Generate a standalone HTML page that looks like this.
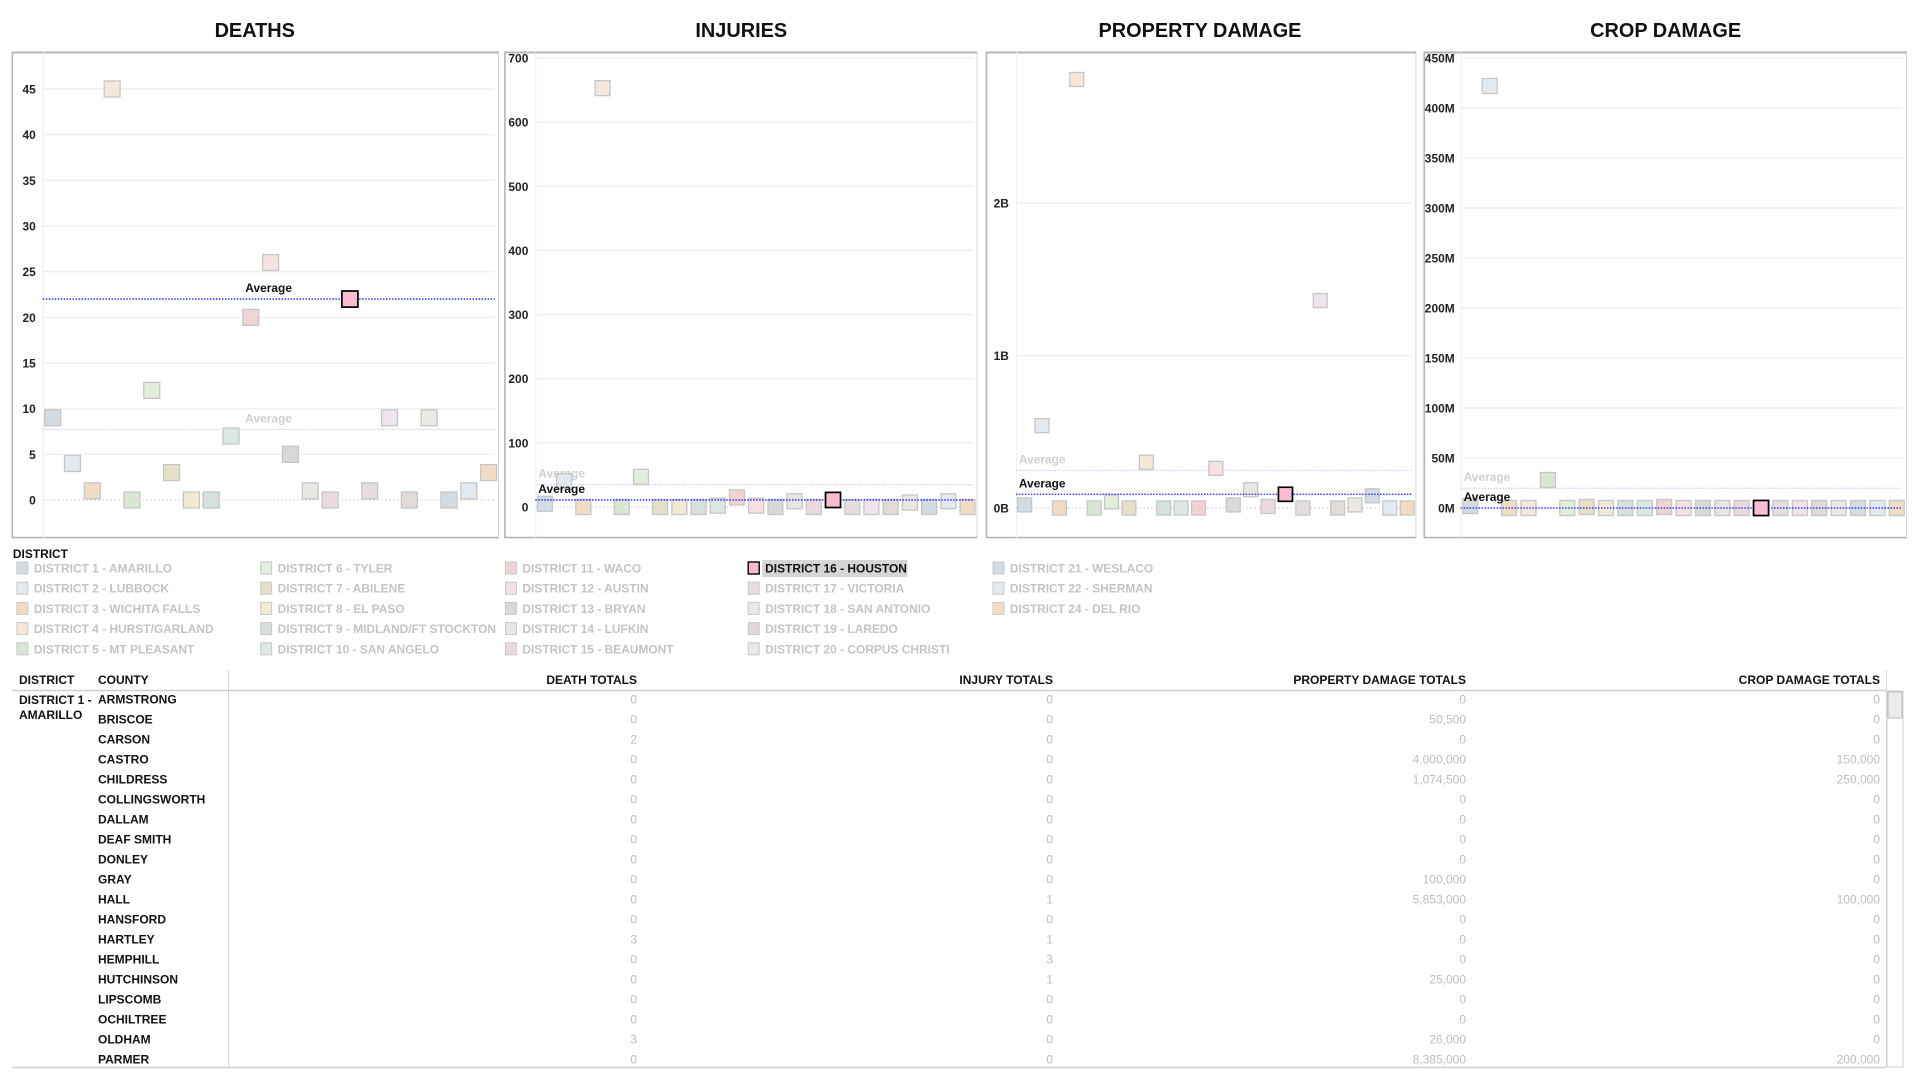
<!DOCTYPE html>
<html><head><meta charset="utf-8"><style>
html,body{margin:0;padding:0;background:#fff;width:1920px;height:1080px;overflow:hidden;font-family:"Liberation Sans",Arial,sans-serif}
svg text{font-family:"Liberation Sans",Arial,sans-serif}
</style></head><body>
<svg id="svgroot" width="1920" height="1080" viewBox="0 0 1920 1080" xmlns="http://www.w3.org/2000/svg"><g id="root" transform="scale(0.995,1)"></g><g id="troot"></g></svg>
<script>
const districts=["DISTRICT 1 - AMARILLO","DISTRICT 2 - LUBBOCK","DISTRICT 3 - WICHITA FALLS","DISTRICT 4 - HURST/GARLAND","DISTRICT 5 - MT PLEASANT","DISTRICT 6 - TYLER","DISTRICT 7 - ABILENE","DISTRICT 8 - EL PASO","DISTRICT 9 - MIDLAND/FT STOCKTON","DISTRICT 10 - SAN ANGELO","DISTRICT 11 - WACO","DISTRICT 12 - AUSTIN","DISTRICT 13 - BRYAN","DISTRICT 14 - LUFKIN","DISTRICT 15 - BEAUMONT","DISTRICT 16 - HOUSTON","DISTRICT 17 - VICTORIA","DISTRICT 18 - SAN ANTONIO","DISTRICT 19 - LAREDO","DISTRICT 20 - CORPUS CHRISTI","DISTRICT 21 - WESLACO","DISTRICT 22 - SHERMAN","DISTRICT 24 - DEL RIO"];
const districtColors=["#d3dbe3","#e3e9f0","#f2dcc5","#f5e8db","#d9e6d3","#e1eedc","#e6e0c8","#f3ead6","#d6e0dc","#dde8e4","#f0d3d3","#f5e1e1","#d9d9d9","#e9e7e3","#ead9df","#f9bcd0","#e6dde3","#efe4ec","#e2dad8","#ece8e3","#d3dbe3","#e3e9f0","#f2dcc5"];
const selectedIndex=15;
const deaths=[9,4,1,45,0,12,3,0,0,7,20,26,5,1,0,22,1,9,0,9,0,1,3];
const injuries=[5,40,0,653,0,47,0,0,0,2,15,2,0,9,0,11,0,0,0,7,0,9,0];
const propertyB=[0.02,0.54,0,2.81,0,0.04,0,0.30,0,0,0,0.26,0.02,0.12,0.01,0.09,0,1.36,0,0.02,0.08,0,0];
const cropM=[2,422,0,0,28,0,1,0,0,0,1,0,0,0,0,0,0,0,0,0,0,0,0];
const deathTicks=[0,5,10,15,20,25,30,35,40,45];
const injuryTicks=[0,100,200,300,400,500,600,700];
const propertyTicks=[0,1,2];
const propertyTickLabels=["0B","1B","2B"];
const cropTicks=[0,50,100,150,200,250,300,350,400,450];
const cropTickLabels=["0M","50M","100M","150M","200M","250M","300M","350M","400M","450M"];
const counties=["ARMSTRONG","BRISCOE","CARSON","CASTRO","CHILDRESS","COLLINGSWORTH","DALLAM","DEAF SMITH","DONLEY","GRAY","HALL","HANSFORD","HARTLEY","HEMPHILL","HUTCHINSON","LIPSCOMB","OCHILTREE","OLDHAM","PARMER"];
const deathTotals=["0","0","2","0","0","0","0","0","0","0","0","0","3","0","0","0","0","3","0"];
const injuryTotals=["0","0","0","0","0","0","0","0","0","0","1","0","1","3","1","0","0","0","0"];
const propertyTotals=["0","50,500","0","4,000,000","1,074,500","0","0","0","0","100,000","5,853,000","0","0","0","25,000","0","0","26,000","8,385,000"];
const cropTotals=["0","0","0","150,000","250,000","0","0","0","0","0","100,000","0","0","0","0","0","0","0","200,000"];

const NS="http://www.w3.org/2000/svg";
const root=document.getElementById('root');
const troot=document.getElementById('troot');
function mk(tag,attrs,parent,txt){const e=document.createElementNS(NS,tag);for(const k in attrs)e.setAttribute(k,attrs[k]);if(txt!==undefined)e.textContent=txt;(parent||root).appendChild(e);return e;}

const panels=[
 {name:"deaths",title:"DEATHS",tx:256,box:[12,501],plot:[43,501],y0:500,yTop:89,tmax:45,data:deaths,ticks:deathTicks,labels:deathTicks.map(String),ms:16,lblX:"center",lblRight:36},
 {name:"injuries",title:"INJURIES",tx:745,box:[507,982],plot:[538,982],y0:507,yTop:58,tmax:700,data:injuries,ticks:injuryTicks,labels:injuryTicks.map(String),ms:15,lblX:"left",lblRight:531},
 {name:"property-damage",title:"PROPERTY DAMAGE",tx:1206,box:[991,1423],plot:[1021,1423],y0:508,yTop:203,tmax:2,data:propertyB,ticks:propertyTicks,labels:propertyTickLabels,ms:14,lblX:"left",lblRight:1014},
 {name:"crop-damage",title:"CROP DAMAGE",tx:1674,box:[1431,1916],plot:[1468,1916],y0:508,yTop:58,tmax:450,data:cropM,ticks:cropTicks,labels:cropTickLabels,ms:15,lblX:"left",lblRight:1462}
];
panels.forEach(p=>{
 const g=mk('g',{});
 
 
 const t=mk('text',{x:p.tx,y:37,'text-anchor':'middle','font-size':20,'font-weight':'bold',fill:'#111'},g,p.title);
 
 
 const yS=v=>p.y0-(v/p.tmax)*(p.y0-p.yTop);
 const xS=i=>p.plot[0]+(i+0.5)*(p.plot[1]-p.plot[0])/p.data.length;
 mk('rect',{x:p.box[0],y:52,width:p.box[1]-p.box[0],height:486,fill:'none',stroke:'#d6d6d6','stroke-width':1},g);
 mk('line',{x1:p.box[0],y1:52.5,x2:p.box[1],y2:52.5,stroke:'#b5b5b5','stroke-width':2},g);
 mk('line',{x1:p.box[0]+0.5,y1:52,x2:p.box[0]+0.5,y2:538,stroke:'#b5b5b5','stroke-width':1.5},g);
 mk('line',{x1:p.box[0],y1:537.5,x2:p.box[1],y2:537.5,stroke:'#b5b5b5','stroke-width':1.5},g);
 mk('line',{x1:p.plot[0]+0.5,y1:52,x2:p.plot[0]+0.5,y2:538,stroke:'#eeeeee'},g);
 p.ticks.forEach((v,i)=>{
  const y=yS(v);
  if(v!==0){const gl=mk('line',{x1:p.plot[0],y1:y,x2:p.plot[1]-4,y2:y,stroke:'#efefef','stroke-width':1.5},g);
   }
  else mk('line',{x1:p.plot[0],y1:y,x2:p.plot[1]-4,y2:y,stroke:'#c8c8c8','stroke-dasharray':'1.5,2.5'},g);
  const tl=mk('text',{x:p.lblRight,y:y+4.5,'text-anchor':'end','font-size':12,'font-weight':'bold',fill:'#222'},g,p.labels[i]);
  
  
 });
 const avg=p.data.reduce((a,b)=>a+b,0)/p.data.length;
 const sel=p.data[selectedIndex];
 const lx=p.lblX==="center"?270:p.plot[0]+3;
 const anchor=p.lblX==="center"?"middle":"start";
 const ya=yS(avg);
 const al=mk('line',{x1:p.plot[0],y1:ya,x2:p.plot[1]-4,y2:ya,stroke:'#c4c4f2','stroke-dasharray':'1.5,1.5'},g);
 
 const at=mk('text',{x:lx,y:ya-7,'text-anchor':anchor,'font-size':12,'font-weight':'bold',fill:'#d0d0d0'},g,'Average');
 
 p.data.forEach((v,i)=>{
  const r=mk('rect',{x:xS(i)-p.ms/2,y:yS(v)-p.ms/2,width:p.ms,height:p.ms,fill:districtColors[i],stroke:i===selectedIndex?'#000':'#c6c6c6','stroke-width':i===selectedIndex?1.6:1.3},g);
  
  
 });
 const ys=yS(sel);
 const sl=mk('line',{x1:p.plot[0],y1:ys,x2:p.plot[1]-4,y2:ys,stroke:'#1a1aff','stroke-dasharray':'1.5,1.5','stroke-width':1.3},g);
 
 const st=mk('text',{x:lx,y:ys-7,'text-anchor':anchor,'font-size':12,'font-weight':'bold',fill:'#111'},g,'Average');
 
 const r=mk('rect',{x:xS(selectedIndex)-p.ms/2,y:ys-p.ms/2,width:p.ms,height:p.ms,fill:districtColors[selectedIndex],stroke:'#000','stroke-width':1.6},g);
 
});

const lg=mk('g',{});


const lt=mk('text',{x:13,y:558,'font-size':12,'font-weight':'bold',fill:'#111'},lg,'DISTRICT');

const colX=[17,262,508,752,998];
districts.forEach((d,i)=>{
 const c=Math.floor(i/5),r=i%5;
 const x=colX[c],y=568+r*20.2;
 const eg=mk('g',{},lg);
 
 
 const s=i===selectedIndex;
 if(s) mk('rect',{x:x+14,y:y-8,width:146,height:17,fill:'#d6d6d6'},eg);
 mk('rect',{x:x,y:y-6,width:11,height:12,fill:districtColors[i],stroke:s?'#000':'#c8c8c8','stroke-width':s?1.4:1},eg);
 mk('text',{x:x+17,y:y+4.5,'font-size':12,'font-weight':'bold',fill:s?'#111':'#c4c4c4'},eg,d);
});

const tg=mk('g',{},troot);


const cD=637,cI=1053,cP=1466,cC=1880;
const hdr=[["DISTRICT",19,"start"],["COUNTY",98,"start"],["DEATH TOTALS",cD,"end"],["INJURY TOTALS",cI,"end"],["PROPERTY DAMAGE TOTALS",cP,"end"],["CROP DAMAGE TOTALS",cC,"end"]];
hdr.forEach(h=>{const t=mk('text',{x:h[1],y:684,'text-anchor':h[2],'font-size':12,'font-weight':'bold',fill:'#111'},tg,h[0]);
 });
mk('line',{x1:12,y1:690.5,x2:1886,y2:690.5,stroke:'#cfcfcf','stroke-width':1.5},tg);
mk('line',{x1:228.5,y1:670,x2:228.5,y2:1067,stroke:'#d8d8d8'},tg);
mk('line',{x1:12,y1:1067.5,x2:1886,y2:1067.5,stroke:'#cfcfcf','stroke-width':1.5},tg);
mk('line',{x1:1886.5,y1:670,x2:1886.5,y2:1067,stroke:'#d8d8d8'},tg);
const sb=mk('rect',{x:1887,y:691,width:16,height:376,fill:'#fff',stroke:'#cfcfcf'},tg);

const th=mk('rect',{x:1888,y:692,width:14,height:26,fill:'#ececec',stroke:'#bdbdbd'},tg);

const dt1=mk('text',{x:19,y:704,'font-size':12,'font-weight':'bold',fill:'#111'},tg,'DISTRICT 1 -');

const dt2=mk('text',{x:19,y:719,'font-size':12,'font-weight':'bold',fill:'#111'},tg,'AMARILLO');

counties.forEach((c,i)=>{
 const y=703.5+i*20;
 const row=mk('g',{},tg);
 
 
 mk('text',{x:98,y:y,'font-size':12,'font-weight':'bold',fill:'#111'},row,c);
 mk('text',{x:cD,y:y,'text-anchor':'end','font-size':12,fill:'#bdbdbd'},row,deathTotals[i]);
 mk('text',{x:cI,y:y,'text-anchor':'end','font-size':12,fill:'#bdbdbd'},row,injuryTotals[i]);
 mk('text',{x:cP,y:y,'text-anchor':'end','font-size':12,fill:'#bdbdbd'},row,propertyTotals[i]);
 mk('text',{x:cC,y:y,'text-anchor':'end','font-size':12,fill:'#bdbdbd'},row,cropTotals[i]);
});
</script>
</body></html>
